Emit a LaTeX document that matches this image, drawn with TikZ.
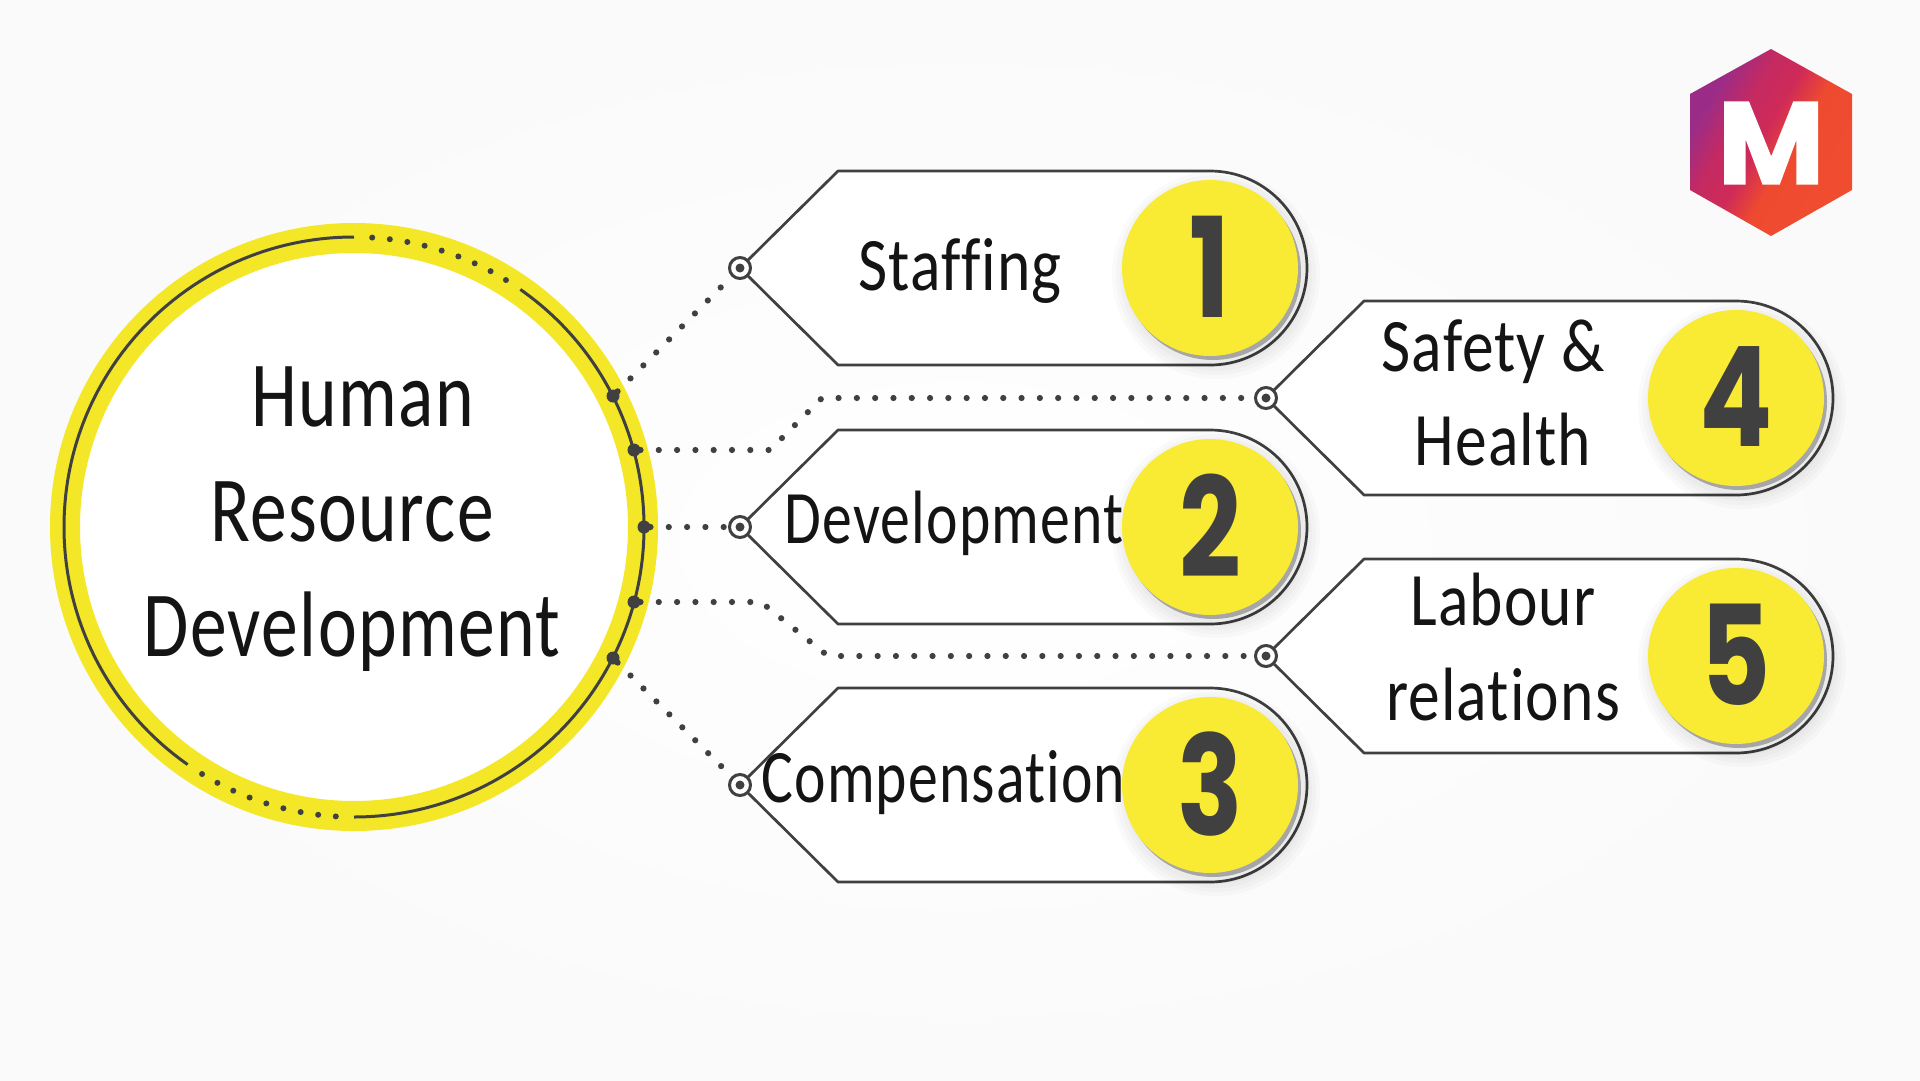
\documentclass[tikz,border=0pt]{standalone}
\usepackage{fontspec}
\newfontfamily\labelfont[FakeStretch=0.84,Ligatures=NoCommon,LetterSpace=1.5]{Carlito}
\newfontfamily\tightfont[FakeStretch=0.79,Ligatures=NoCommon,LetterSpace=1.5]{Carlito}
\newfontfamily\numfont[FakeStretch=0.78,BoldFont={Poppins Bold}]{Poppins}
\newfontfamily\logofont[BoldFont={Poppins Bold},FakeBold=1.5]{Poppins}
\definecolor{ink}{HTML}{404040}
\definecolor{ringyellow}{HTML}{F3E728}
\definecolor{discyellow}{HTML}{F9EA34}
\definecolor{logoa}{HTML}{F05030}
\definecolor{logob}{HTML}{EE4A30}
\definecolor{logoc}{HTML}{CF2A58}
\definecolor{logod}{HTML}{C42A62}
\definecolor{logoe}{HTML}{9A2C88}
\pgfdeclareverticalshading{logoshade}{100bp}{color(0bp)=(logoa);color(44bp)=(logob);color(53bp)=(logoc);
  color(62bp)=(logod);color(72bp)=(logoe);color(100bp)=(logoe)}
\tikzset{
  bigtext/.style={font=\tightfont\fontsize{26.5}{32.7}\selectfont,align=center,text=black!92,inner sep=0pt},
  boxtext/.style={font=\labelfont\fontsize{21.5}{26.8}\selectfont,align=center,text=black!92,inner sep=0pt},
  tighttext/.style={boxtext,font=\tightfont\fontsize{21.5}{26.8}\selectfont},
  hub/.style={circle,draw=ringyellow,fill=white,line width=3mm,minimum size=57.8mm,inner sep=0pt,outer sep=0pt},
  ringdot/.style={circle,fill=ink,minimum size=1.3mm,inner sep=0pt,outer sep=0pt},
  tipring/.style={circle,draw=ink,fill=white,line width=0.3mm,minimum size=2.1mm,inner sep=0pt,outer sep=0.15mm},
  dotted line/.style={ink,line width=0.62mm,line cap=round,dash pattern=on 0pt off 1.83mm},
  boxline/.style={ink,fill=white,line width=0.27mm,line join=round},
  disc/.style={circle,fill=discyellow,minimum size=17.6mm,inner sep=0pt,text=ink,font=\numfont\bfseries\fontsize{39.5}{39.5}\selectfont},
}
\begin{document}
\begin{tikzpicture}[x=0.1mm,y=0.1mm]
  \useasboundingbox (0,0) rectangle (1920,1080);
  \shade[inner color=white,outer color=black!2] (0,0) rectangle (1920,1080);
  \node[hub](hub)at(354,553){};
  \draw[ink,line width=0.3mm] (hub.center) ++(55:290) arc[start angle=55,end angle=-90,radius=290];
  \draw[ink,line width=0.3mm] (hub.center) ++(90:290) arc[start angle=90,end angle=235,radius=290];
  \foreach \a in {86.4,82.9,...,58} \fill[ink] (hub.center) ++(\a:290) circle[radius=3];
  \foreach \a in {266.4,262.9,...,238} \fill[ink] (hub.center) ++(\a:290) circle[radius=3];
  \node[ringdot](d1)at(613,684){};
  \node[ringdot](d4)at(634,630){};
  \node[ringdot](d2)at(644,553){};
  \node[ringdot](d5)at(634,478){};
  \node[ringdot](d3)at(613,422){};
  \foreach \n/\x/\y in {1/740/812,2/740/553,3/740/295,4/1266/682,5/1266/424}{
    \coordinate (tip\n) at (\x,\y);
    \draw[boxline] (tip\n) -- (\x+98,\y+97) -- (\x+470,\y+97) arc[start angle=90,end angle=-90,radius=97] -- (\x+98,\y-97) -- cycle;
    \node[tipring](s\n)at(tip\n){};
    \fill[ink] (tip\n) circle[radius=4.5];
    \foreach \r in {104,100,...,90} \fill[black,opacity=0.02] (\x+476,\y-7) circle[radius=\r];
    \fill[black!35] (\x+473,\y-4) circle[radius=88];
    \node[disc](n\n)at(\x+470,\y){\raisebox{0.2mm}{\n}};
  }
  \coordinate (c4a) at (770,630);
  \coordinate (c4b) at (822,682);
  \coordinate (c5a) at (761,478);
  \coordinate (c5b) at (828,424);
  \draw[dotted line] (d1) -- (s1);
  \draw[dotted line] (d2) -- (s2);
  \draw[dotted line] (d3) -- (s3);
  \draw[dotted line] (d4) -- (c4a) -- (c4b) -- (s4);
  \draw[dotted line] (d5) -- (c5a) -- (c5b) -- (s5);
  \node[bigtext](title)at(352,561){\hspace*{2.2mm}Human\\Resource\\Development};
  \node[boxtext](l1)at(960,809){Staffing};
  \node[tighttext](l2)at(954,557){Development};
  \node[tighttext](l3)at(943.5,297){Compensation};
  \node[boxtext](l4)at(1503,687){Safety \&\hspace*{2mm}\\Health};
  \node[boxtext](l5)at(1503,433){Labour\\relations};
  \shade[shading=logoshade,shading angle=60]
    (1771,1031) -- (1852,986) -- (1852,890) -- (1771,844) -- (1690,890) -- (1690,986) -- cycle;
  \node[text=white,font=\logofont\bfseries\fontsize{33}{33}\selectfont,inner sep=0pt](logo)at(1771,937){M};
\end{tikzpicture}
\end{document}
